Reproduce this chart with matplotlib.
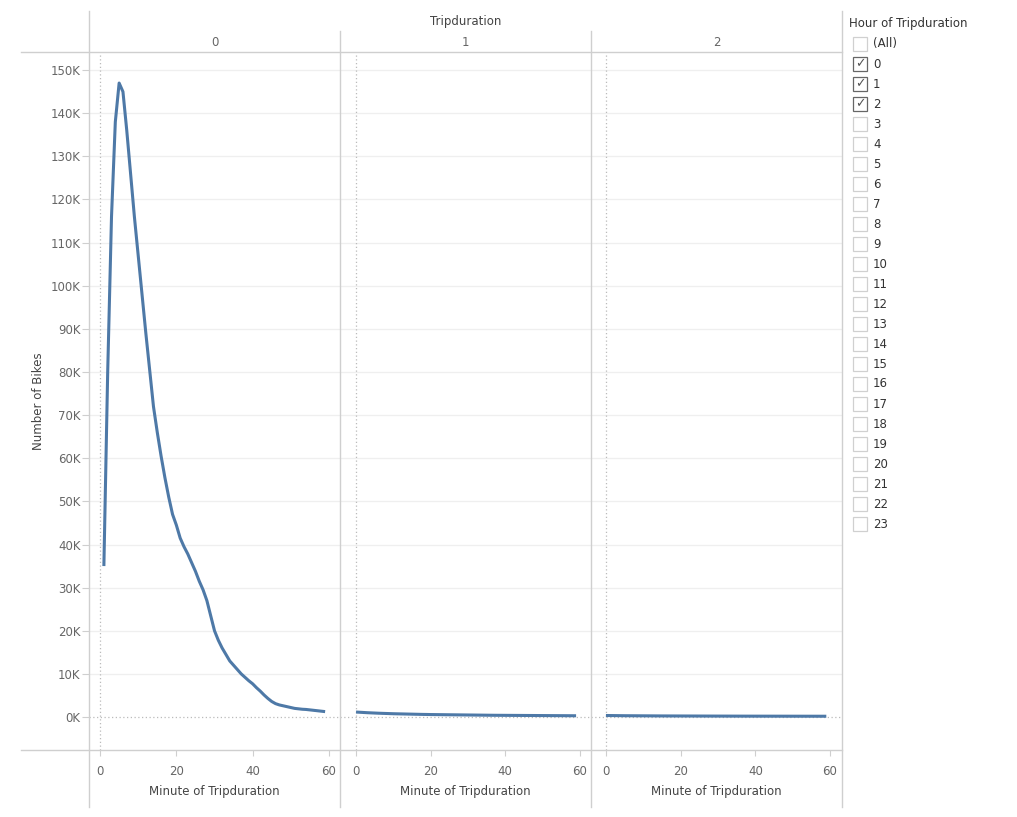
import matplotlib
matplotlib.use('Agg')
import matplotlib.pyplot as plt
from matplotlib.lines import Line2D
from matplotlib.patches import Rectangle

# data
hours = ['0', '1', '2']
minutes_h0 = list(range(1, 60))
bikes_h0 = [35000, 80000, 116000, 138000, 147000, 145000, 136000, 126000, 116000, 107000,
            98000, 89000, 80500, 72000, 66000, 60500, 55500, 51000, 47000, 44500,
            41500, 39500, 37800, 35800, 33800, 31500, 29500, 27000, 23500, 20000,
            17800, 16000, 14500, 13000, 12000, 11000, 10000, 9200, 8400, 7700,
            6800, 6000, 5100, 4300, 3600, 3100, 2800, 2600, 2400, 2200,
            2000, 1900, 1800, 1750, 1650, 1550, 1450, 1350, 1250]
minutes_h1 = list(range(0, 60))
bikes_h1 = [1150, 1100, 1050, 1000, 960, 920, 880, 850, 820, 790,
            760, 740, 720, 700, 680, 660, 640, 620, 600, 590,
            570, 560, 550, 540, 530, 520, 510, 500, 490, 480,
            470, 460, 450, 440, 430, 420, 410, 400, 395, 390,
            385, 380, 375, 370, 365, 360, 355, 350, 345, 340,
            335, 330, 325, 320, 315, 310, 305, 300, 295, 290]
minutes_h2 = list(range(0, 60))
bikes_h2 = [350, 340, 330, 320, 310, 300, 295, 290, 285, 280,
            275, 270, 265, 260, 255, 250, 248, 245, 243, 240,
            238, 235, 233, 230, 228, 225, 223, 220, 218, 216,
            214, 212, 210, 208, 206, 204, 202, 200, 199, 198,
            197, 196, 195, 194, 193, 192, 191, 190, 189, 188,
            187, 186, 185, 184, 183, 182, 181, 180, 180, 180]
yticks = list(range(0, 150001, 10000))
ytick_labels = ['%dK' % (v // 1000) for v in yticks]
xticks = [0, 20, 40, 60]
legend_items = ['(All)'] + [str(h) for h in range(24)]
checked = ['0', '1', '2']

W, H = 1017, 817
plt.rcParams['font.family'] = ['DejaVu Sans']
fig = plt.figure(figsize=(W / 100, H / 100), dpi=100)
fig.patch.set_facecolor('white')

TXT = '#666666'
BORDER = '#cfcfcf'
LINE = '#4e79a7'


def fx(x):
    return x / W


def fy(y):
    return 1 - y / H


def hline(y, x0, x1, c=BORDER):
    fig.add_artist(Line2D([fx(x0), fx(x1)], [fy(y), fy(y)], color=c, lw=1.0))


def vline(x, y0, y1, c=BORDER):
    fig.add_artist(Line2D([fx(x), fx(x)], [fy(y0), fy(y1)], color=c, lw=1.0))


panel_x = [89, 340, 591, 842]
panel_xlim = [(-2.9, 62.9), (-4.3, 63.0), (-4.0, 63.2)]
top, bottom = 52, 750
series = [(minutes_h0, bikes_h0), (minutes_h1, bikes_h1), (minutes_h2, bikes_h2)]

for i, (mx, by) in enumerate(series):
    x0, x1 = panel_x[i], panel_x[i + 1]
    ax = fig.add_axes([fx(x0), fy(bottom), fx(x1 - x0), (bottom - top) / H])
    ax.set_facecolor('white')
    for s in ax.spines.values():
        s.set_visible(False)
    ax.set_xlim(*panel_xlim[i])
    ax.set_ylim(-7650, 154200)
    for v in yticks[1:]:
        ax.axhline(v, color='#efefef', lw=0.9, zorder=0)
    ax.axhline(0, color='#bbbbbb', lw=0.9, ls=(0, (1, 2)), zorder=1)
    ax.axvline(0, color='#bbbbbb', lw=0.9, ls=(0, (1, 2)), zorder=1)
    ax.plot(mx, by, color=LINE, lw=2.2, solid_capstyle='butt', zorder=3)
    ax.set_xticks(xticks)
    ax.set_xticklabels([str(t) for t in xticks])
    ax.tick_params(axis='x', length=4, color=BORDER, labelcolor=TXT, labelsize=8.5, pad=7)
    ax.set_yticks(yticks)
    if i == 0:
        ax.set_yticklabels(ytick_labels)
        ax.tick_params(axis='y', length=5, color=BORDER, labelcolor=TXT, labelsize=8.5, pad=1)
    else:
        ax.set_yticklabels([])
        ax.tick_params(axis='y', length=0)
    fig.text(fx((x0 + x1) / 2), fy(792), 'Minute of Tripduration', ha='center', va='center',
             color='#444444', fontsize=8.5)
    fig.text(fx((x0 + x1) / 2), fy(42), hours[i], ha='center', va='center',
             color=TXT, fontsize=8.5)

# frame lines
vline(89, 11, 807)
vline(340, 31, 807)
vline(591, 31, 807)
vline(842, 11, 807)
hline(52, 21, 842)
hline(750, 21, 842)

fig.text(fx((89 + 842) / 2), fy(21), 'Tripduration', ha='center', va='center',
         color='#444444', fontsize=8.5)
fig.text(fx(38), fy(401), 'Number of Bikes', ha='center', va='center', rotation=90,
         color='#444444', fontsize=8.5)

# filter legend
fig.text(fx(849), fy(24), 'Hour of Tripduration', ha='left', va='center',
         color='#333333', fontsize=8.5)
for k, name in enumerate(legend_items):
    yc = 44 + 20 * k
    on = name in checked
    fig.add_artist(Rectangle((fx(853), fy(yc + 7)), 14 / W, 14 / H,
                             facecolor='white', edgecolor='#666666' if on else '#d0d0d0',
                             lw=0.9, transform=fig.transFigure))
    if on:
        fig.text(fx(860), fy(yc), '\u2713', ha='center', va='center',
                 color='#555555', fontsize=9)
    fig.text(fx(873), fy(yc), name, ha='left', va='center', color='#333333', fontsize=8.5)

fig.savefig('out.png', dpi=100, facecolor='white')
